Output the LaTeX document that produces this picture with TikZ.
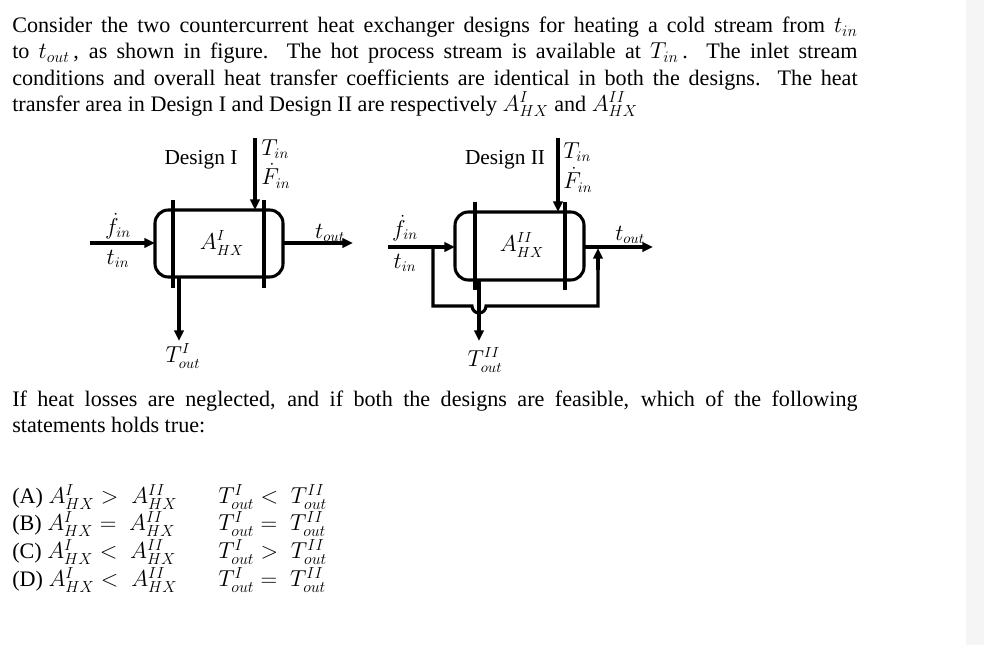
\documentclass[tikz,border=0pt]{standalone}
\usepackage{fontspec}
\setmainfont{Liberation Serif}
\usetikzlibrary{arrows.meta}
\begin{document}
\begin{tikzpicture}[x=0.75pt,y=-0.75pt,
  pipe/.style={line width=2.3pt},
  flow/.style={line width=2.3pt,-{Triangle[length=8pt,width=7pt]}},
  hx/.style={line width=2.3pt,rounded corners=10pt},
  lbl/.style={font=\fontsize{16}{17}\selectfont,inner sep=0pt},
  para/.style={font=\fontsize{16.6}{19.6}\selectfont,align=justify,text width=634pt,inner sep=0pt,anchor=north west}]
\useasboundingbox (0,0) rectangle (984,645);
\fill[gray!8] (966,0) rectangle (984,645);
\node[para] (p1) at (12,17) {Consider the two countercurrent heat exchanger designs for heating a cold stream from $t_{in}$ to $t_{out}$\,, as shown in figure. The hot process stream is available at $T_{in}$\,. The inlet stream\linebreak conditions and overall heat transfer coefficients are identical in both the designs. The heat\linebreak transfer area in Design I and Design II are respectively $A^{I}_{HX}$ and $A^{II}_{HX}$};
\node[para] (p2) at (12,391) {If heat losses are neglected, and if both the designs are feasible, which of the following\linebreak statements holds true:};
% Design I
\draw[hx] (155,210) rectangle (283,277);
\draw[pipe] (173,200) -- (173,288);
\draw[pipe] (264,200) -- (264,288);
\coordinate (i1) at (90,243); \coordinate (i1e) at (155,243);
\draw[flow] (i1) -- (i1e);
\coordinate (o1) at (283,243); \coordinate (o1e) at (353,243);
\draw[flow] (o1) -- (o1e);
\coordinate (h1) at (255,138); \coordinate (h1e) at (255,210);
\draw[flow] (h1) -- (h1e);
\coordinate (c1) at (179,277); \coordinate (c1e) at (179,341);
\draw[flow] (c1) -- (c1e);
\node[lbl] (d1) at (201,160) {Design I};
\node[lbl,anchor=west] (t1) at (261,149) {$T_{in}$};
\node[lbl,anchor=west] (f1) at (261,176) {$\dot F_{in}$};
\node[lbl] (fi1) at (118,226) {$\dot f_{in}$};
\node[lbl] (ti1) at (118,259) {$t_{in}$};
\node[lbl] (a1) at (222,243) {$A^{I}_{HX}$};
\node[lbl] (to1) at (330,233) {$t_{out}$};
\node[lbl] (To1) at (183,356) {$T^{I}_{out}$};
% Design II
\draw[hx] (455,212) rectangle (584,280);
\draw[pipe] (475,202) -- (475,290);
\draw[pipe] (565,202) -- (565,290);
\coordinate (i2) at (388,247); \coordinate (i2e) at (455,247);
\draw[flow] (i2) -- (i2e);
\coordinate (o2) at (584,247); \coordinate (o2e) at (653,247);
\draw[flow] (o2) -- (o2e);
\draw[pipe] (433,247) -- (433,306) -- (472,306) arc[start angle=180,end angle=0,radius=7] -- (598,306) -- (598,260);
\draw[flow] (598,270) -- (598,248);
\coordinate (h2) at (558,138); \coordinate (h2e) at (558,212);
\draw[flow] (h2) -- (h2e);
\coordinate (c2) at (479,280); \coordinate (c2e) at (479,341);
\draw[flow] (c2) -- (c2e);
\node[lbl] (d2) at (505,160) {Design II};
\node[lbl,anchor=west] (t2) at (563,152) {$T_{in}$};
\node[lbl,anchor=west] (f2) at (563,180) {$\dot F_{in}$};
\node[lbl] (fi2) at (405,228) {$\dot f_{in}$};
\node[lbl] (ti2) at (405,263) {$t_{in}$};
\node[lbl] (a2) at (522,245) {$A^{II}_{HX}$};
\node[lbl] (to2) at (630,235) {$t_{out}$};
\node[lbl] (To2) at (485,360) {$T^{II}_{out}$};
% options
\tikzset{opt/.style={font=\fontsize{16.6}{17}\selectfont,anchor=west,inner sep=0pt}}
\node[opt] (oa) at (12,497) {(A) $A^{I}_{HX} >\; A^{II}_{HX}$};
\node[opt] (ob) at (12,524) {(B) $A^{I}_{HX} =\; A^{II}_{HX}$};
\node[opt] (oc) at (12,552) {(C) $A^{I}_{HX} <\; A^{II}_{HX}$};
\node[opt] (od) at (12,580) {(D) $A^{I}_{HX} <\; A^{II}_{HX}$};
\node[opt] (ra) at (218,497) {$T^{I}_{out} <\; T^{II}_{out}$};
\node[opt] (rb) at (218,524) {$T^{I}_{out} =\; T^{II}_{out}$};
\node[opt] (rc) at (218,552) {$T^{I}_{out} >\; T^{II}_{out}$};
\node[opt] (rd) at (218,580) {$T^{I}_{out} =\; T^{II}_{out}$};
\end{tikzpicture}
\end{document}
